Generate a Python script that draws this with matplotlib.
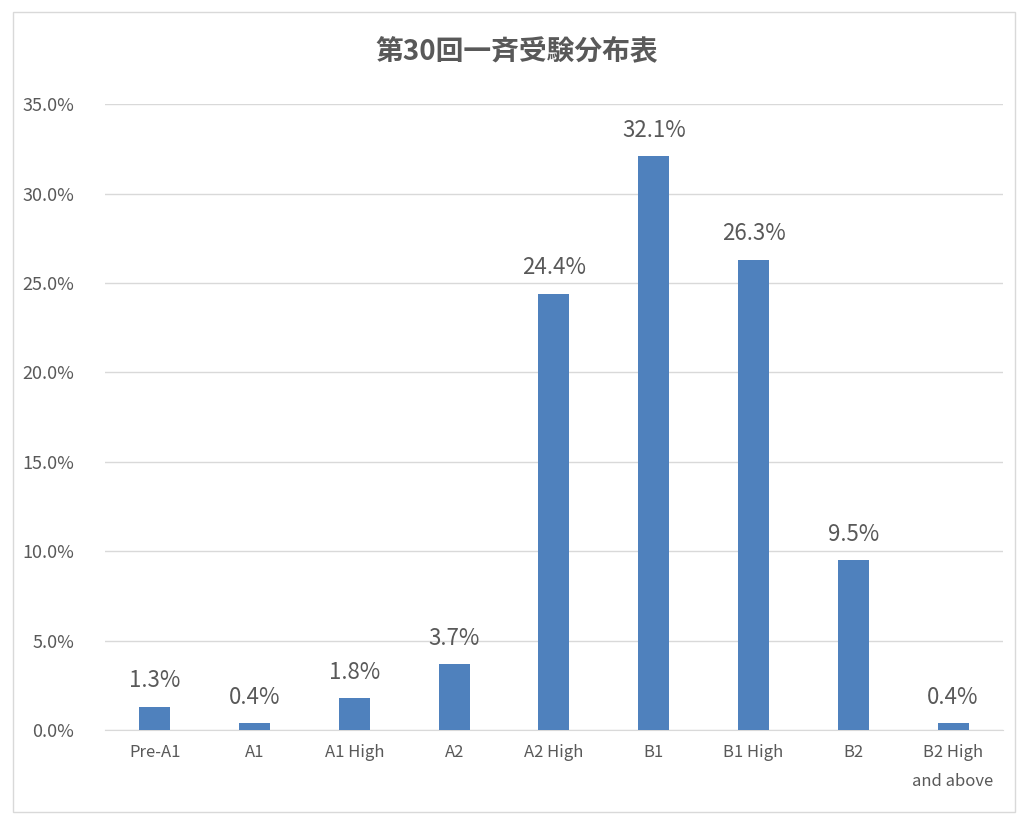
import matplotlib.pyplot as plt
import matplotlib.patches as mpatches
from matplotlib.ticker import FuncFormatter

plt.rcParams['font.family'] = ['Noto Sans CJK JP', 'DejaVu Sans']

categories = ['Pre-A1', 'A1', 'A1 High', 'A2', 'A2 High', 'B1', 'B1 High', 'B2', 'B2 High\nand above']
values = [1.3, 0.4, 1.8, 3.7, 24.4, 32.1, 26.3, 9.5, 0.4]
title = '第30回一斉受験分布表'

TEXT = '#595959'
fig = plt.figure(figsize=(10.27, 8.16), dpi=100)
fig.patches.append(mpatches.Rectangle((0.013, 0.005), 0.975, 0.98, transform=fig.transFigure,
                                      fill=False, edgecolor='#d9d9d9', linewidth=1))
ax = fig.add_axes([0.1022, 0.1054, 0.8744, 0.767])

x = range(len(categories))
ax.bar(x, values, width=0.31, color='#4F81BD', zorder=3)
for i, v in zip(x, values):
    ax.text(i, v + 0.8, f'{v:.1f}%', ha='center', va='bottom', fontsize=16, color=TEXT)

ax.set_xlim(-0.5, len(categories) - 0.5)
ax.set_ylim(0, 35)
ax.set_yticks([0, 5, 10, 15, 20, 25, 30, 35])
ax.yaxis.set_major_formatter(FuncFormatter(lambda v, _: f'{v:.1f}%'))
ax.set_xticks(list(x))
ax.set_xticklabels(categories, linespacing=1.9)
ax.tick_params(axis='y', length=0, labelsize=13, labelcolor=TEXT, pad=22)
ax.tick_params(axis='x', length=0, labelsize=12, labelcolor=TEXT, pad=10)
ax.grid(axis='y', color='#d9d9d9', linewidth=1, zorder=0)
for s in ['top', 'right', 'left']:
    ax.spines[s].set_visible(False)
ax.spines['bottom'].set_color('#d9d9d9')

fig.text(0.503, 0.937, title, ha='center', va='center', fontsize=20, fontweight='bold', color=TEXT)
fig.savefig('out.png', dpi=100)
